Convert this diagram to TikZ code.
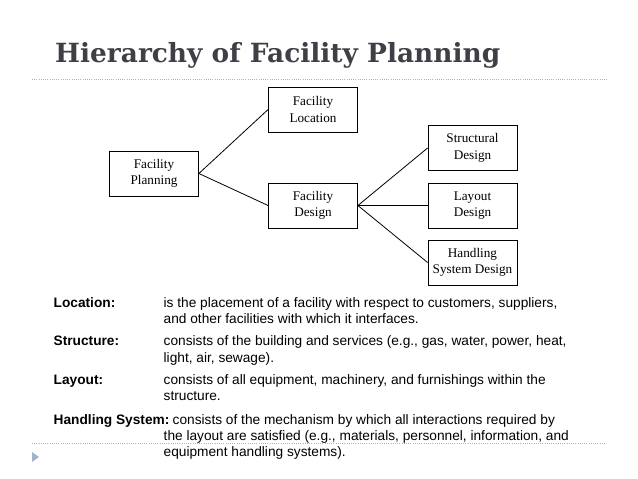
\documentclass[tikz,border=0pt]{standalone}
\usepackage{fontspec}
\setmainfont{Liberation Serif}
\newfontfamily\titlefont{DejaVu Serif}
\newfontfamily\descfont{Liberation Sans}
\usetikzlibrary{positioning}
\definecolor{titlegrey}{HTML}{3F3F48}
\definecolor{ruleblue}{HTML}{A3B4C6}
\tikzset{
  levelbox/.style={draw, line width=0.8pt, minimum width=89pt, minimum height=45pt,
    align=center, inner sep=1pt, font=\fontsize{13.2}{16.5}\selectfont},
  term/.style={anchor=base west, inner sep=0pt, font=\descfont\bfseries\fontsize{13.7}{16.3}\selectfont},
  desc/.style={anchor=base west, inner sep=0pt, align=left, font=\descfont\fontsize{13.7}{16.3}\selectfont},
  rule/.style={ruleblue, line width=0.6pt, dash pattern=on 1pt off 1.2pt}
}
\begin{document}
\begin{tikzpicture}[x=1pt, y=-1pt]
        \useasboundingbox (0,0) rectangle (638,479);

        % title and rules
        \node[anchor=base west, inner sep=0pt, text=titlegrey] (title) at (55,63)
            {\resizebox{445pt}{!}{\titlefont\bfseries Hierarchy of Facility Planning}};
        \coordinate (topl) at (32,79);
        \coordinate (topr) at (608,79);
        \draw[rule] (topl) -- (topr);
        \coordinate (botl) at (32,443);
        \coordinate (botr) at (606,443);
        \draw[rule] (botl) -- (botr);
        \fill[ruleblue] (32,452) -- (39,457) -- (32,462) -- cycle;

        % hierarchy
        \node[levelbox] (plan) at (154,173.5) {Facility\\Planning};
        \node[levelbox] (loc) at (313,109.5) {Facility\\Location};
        \node[levelbox] (des) at (313,205.5) {Facility\\Design};
        \node[levelbox] (struc) at (472.5,148) {Structural\\Design};
        \node[levelbox] (lay) at (472.5,205.5) {Layout\\Design};
        \node[levelbox] (hand) at (472.5,262.5) {Handling\\System Design};

        \foreach \from / \to in {plan/loc,plan/des,des/struc,des/lay,des/hand}
            \draw[line width=0.8pt] (\from.east) -- (\to.west);

        % definitions (desc nodes sit on their last line)
        \node[term] (tloc) at (53.5,307.3) {Location:};
        \node[desc] (dloc) at (163.5,323.6) {is the placement of a facility with respect to customers, suppliers,\\and other facilities with which it interfaces.};
        \node[term] (tstruc) at (53.5,345.7) {Structure:};
        \node[desc] (dstruc) at (163.5,362) {consists of the building and services (e.g., gas, water, power, heat,\\light, air, sewage).};
        \node[term] (tlay) at (53.5,384) {Layout:};
        \node[desc] (dlay) at (163.5,400.3) {consists of all equipment, machinery, and furnishings within the\\structure.};
        \node[term] (thand) at (53.5,424.3) {Handling System:};
        \node[desc] (dhand) at (163.5,456.9) {\hspace*{9pt}consists of the mechanism by which all interactions required by\\the layout are satisfied (e.g., materials, personnel, information, and\\equipment handling systems).};
\end{tikzpicture}
\end{document}
